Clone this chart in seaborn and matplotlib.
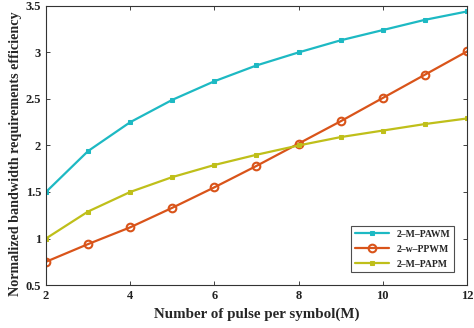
import numpy as np
import pandas as pd
import matplotlib
matplotlib.use("Agg")
import matplotlib.pyplot as plt
import seaborn as sns

M = [2, 3, 4, 5, 6, 7, 8, 9, 10, 11, 12]
pawm = [1.50, 1.94, 2.25, 2.49, 2.69, 2.86, 3.00, 3.13, 3.24, 3.35, 3.44]
ppwm = [0.75, 0.94, 1.12, 1.33, 1.55, 1.78, 2.02, 2.26, 2.51, 2.76, 3.01]
papm = [1.00, 1.29, 1.50, 1.66, 1.79, 1.90, 2.00, 2.09, 2.16, 2.23, 2.29]
labels = ["2\u2013M\u2013PAWM", "2\u2013w\u2013PPWM", "2\u2013M\u2013PAPM"]
xticks = [2, 4, 6, 8, 10, 12]
yticks = [0.5, 1, 1.5, 2, 2.5, 3, 3.5]

sns.set_style("ticks")
plt.rcParams['font.family'] = ['Liberation Serif', 'DejaVu Serif']

df = pd.DataFrame({"M": M * 3,
                   "val": pawm + ppwm + papm,
                   "series": [labels[0]] * len(M) + [labels[1]] * len(M) + [labels[2]] * len(M)})

fig = plt.figure(figsize=(4.74, 3.28), dpi=100)
ax = fig.add_axes([0.097, 0.131, 0.888, 0.851])

colors = ["#1db9c3", "#d9541a", "#bfbf1a"]
markers = ["s", "o", "s"]
for lab, c, mk in zip(labels, colors, markers):
    sub = df[df["series"] == lab]
    if mk == "o":
        sns.lineplot(data=sub, x="M", y="val", ax=ax, color=c, linewidth=1.6,
                     marker="o", markersize=5.5, markerfacecolor="none",
                     markeredgecolor=c, markeredgewidth=1.5, label=lab)
    else:
        sns.lineplot(data=sub, x="M", y="val", ax=ax, color=c, linewidth=1.6,
                     marker="s", markersize=3.5, markerfacecolor=c,
                     markeredgecolor=c, label=lab)

ax.set_xlim(2, 12)
ax.set_ylim(0.5, 3.5)
ax.set_xticks(xticks)
ax.set_yticks(yticks)
ax.set_xticklabels([str(t) for t in xticks], fontweight="bold", fontsize=9)
ax.set_yticklabels([("%g" % t) for t in yticks], fontweight="bold", fontsize=9)
ax.tick_params(direction="in", top=True, right=True, length=3, width=0.6, colors="#222222")
for s in ax.spines.values():
    s.set_linewidth(0.8)
    s.set_color("#333333")
ax.set_xlabel("Number of pulse per symbol(M)", fontweight="bold", fontsize=10.8, labelpad=4)
ax.set_ylabel("Normalized bandwidth requirements efficiency", fontweight="bold", fontsize=10.2)
ax.yaxis.set_label_coords(-0.058, 0.47)

leg = ax.legend(loc="lower right", prop={"weight": "bold", "size": 7},
                frameon=True, fancybox=False, edgecolor="#222222",
                handlelength=3.5, borderaxespad=1.3, labelspacing=0.6)
leg.get_frame().set_linewidth(0.8)

fig.savefig("out.png", dpi=100)
